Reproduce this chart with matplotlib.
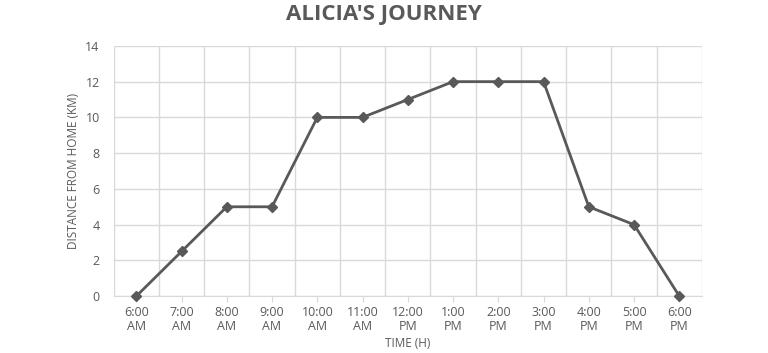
import matplotlib
matplotlib.use("Agg")
import matplotlib.pyplot as plt

plt.rcParams['font.family'] = ['Open Sans', 'DejaVu Sans']

times = ["6:00\nAM", "7:00\nAM", "8:00\nAM", "9:00\nAM", "10:00\nAM", "11:00\nAM", "12:00\nPM",
         "1:00\nPM", "2:00\nPM", "3:00\nPM", "4:00\nPM", "5:00\nPM", "6:00\nPM"]
distance = [0, 2.5, 5, 5, 10, 10, 11, 12, 12, 12, 5, 4, 0]

grey = '#595959'
grid = '#d9d9d9'

fig = plt.figure(figsize=(7.68, 3.53), dpi=100)
ax = fig.add_axes([0.148, 0.161, 0.766, 0.709])

x = [i + 0.5 for i in range(len(times))]
ax.plot(x, distance, color=grey, lw=2, marker='D', ms=5, zorder=3, clip_on=False)

ax.set_xlim(0, len(times))
ax.set_ylim(0, 14)
ax.set_yticks(range(0, 15, 2))
ax.set_xticks(x)
ax.set_xticklabels(times)
ax.set_xticks(range(len(times) + 1), minor=True)

ax.grid(True, which='minor', axis='x', color=grid, lw=1)
ax.grid(True, which='major', axis='y', color=grid, lw=1)
for s in ['top', 'right', 'left']:
    ax.spines[s].set_visible(False)
ax.spines['bottom'].set_color(grid)
ax.tick_params(axis='y', length=0, colors=grey, labelsize=9, pad=10)
ax.tick_params(axis='x', which='major', length=4, color=grid, colors=grey, labelsize=9, pad=3)
ax.tick_params(axis='x', which='minor', length=0)
for lab in ax.get_xticklabels():
    lab.set_linespacing(1.1)

ax.set_xlabel('TIME (H)', color=grey, fontsize=8.5)
ax.xaxis.set_label_coords(0.5, -0.165)
ax.xaxis.label.set_va('top')
ax.set_ylabel('DISTANCE FROM HOME (KM)', color=grey, fontsize=8.5)
ax.yaxis.set_label_coords(-0.058, 0.5)
fig.text(0.5, 0.96, "ALICIA'S JOURNEY", ha='center', va='center', color=grey,
         fontsize=16, fontweight='bold')

fig.savefig('out.png', dpi=100, facecolor='white')
